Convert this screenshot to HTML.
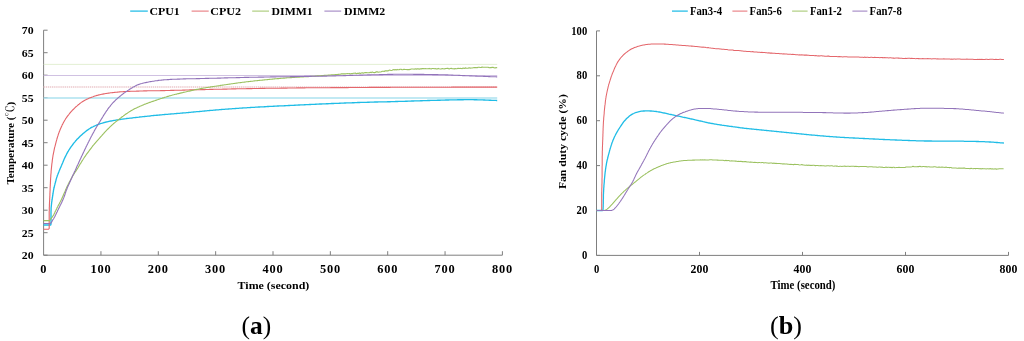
<!DOCTYPE html>
<html lang="en"><head><meta charset="utf-8"><title>Temperature and fan duty cycle</title>
<style>html,body{margin:0;padding:0;background:#fff}svg{display:block}text{font-family:"Liberation Serif","Noto Serif CJK SC",serif;font-weight:bold;fill:#000}.r{font-weight:normal}</style></head><body>
<svg width="1024" height="341" viewBox="0 0 1024 341">
<rect width="1024" height="341" fill="#fff"/>
<g fill="none" stroke="#7f7f7f" stroke-width="1">
<path d="M43.6,30.2 V255.2 H502.4"/>
<path d="M43.6,255.20 h4 M43.6,232.70 h4 M43.6,210.20 h4 M43.6,187.70 h4 M43.6,165.20 h4 M43.6,142.70 h4 M43.6,120.20 h4 M43.6,97.70 h4 M43.6,75.20 h4 M43.6,52.70 h4 M43.6,30.20 h4 M100.95,255.2 v-4 M158.30,255.2 v-4 M215.65,255.2 v-4 M273.00,255.2 v-4 M330.35,255.2 v-4 M387.70,255.2 v-4 M445.05,255.2 v-4 M502.40,255.2 v-4 "/>
</g>
<g fill="none">
<path d="M43.6,64.4 H497.2" stroke="#dcebc8" stroke-width="0.8"/>
<path d="M43.6,75.5 H497.2" stroke="#cbbadf" stroke-width="0.9"/>
<path d="M43.6,86.95 H497.2" stroke="#ecc8cc" stroke-width="1.5" stroke-dasharray="1.4 0.7"/>
<path d="M43.6,98.0 H497.2" stroke="#ade2ef" stroke-width="1.4"/>
</g>
<g fill="none" stroke-linejoin="round" stroke-linecap="butt">
<path d="M43.6,225.0 L45.1,225.0 L46.5,225.0 L47.7,225.0 L48.7,225.0 L49.5,225.0 L50.2,225.0 L50.7,225.0 L51.0,224.1 L51.0,223.1 L51.0,222.2 L51.0,221.2 L51.0,220.2 L51.0,219.1 L51.0,218.1 L51.0,217.1 L51.0,216.1 L51.0,215.1 L51.0,214.1 L51.0,213.1 L51.0,212.1 L51.0,211.1 L51.1,210.1 L51.1,209.1 L51.1,208.1 L51.2,207.1 L51.3,206.1 L51.4,205.1 L51.5,204.1 L51.6,203.1 L51.7,202.1 L51.9,201.1 L52.0,200.2 L52.2,199.2 L52.3,198.2 L52.5,197.2 L52.6,196.2 L52.8,195.2 L52.9,194.2 L53.1,193.2 L53.2,192.2 L53.4,191.3 L53.5,190.3 L53.7,189.3 L53.9,188.3 L54.2,187.3 L54.4,186.4 L54.6,185.4 L54.9,184.4 L55.1,183.4 L55.4,182.5 L55.6,181.5 L55.9,180.5 L56.1,179.6 L56.4,178.6 L56.7,177.6 L57.0,176.7 L57.3,175.7 L57.7,174.8 L58.0,173.9 L58.4,172.9 L58.8,172.0 L59.1,171.1 L59.5,170.2 L59.9,169.2 L60.3,168.3 L60.7,167.4 L61.1,166.5 L61.5,165.6 L61.9,164.6 L62.3,163.7 L62.7,162.8 L63.0,161.9 L63.4,160.9 L63.8,160.0 L64.2,159.1 L64.6,158.2 L65.0,157.3 L65.5,156.4 L65.9,155.5 L66.4,154.6 L66.8,153.7 L67.3,152.8 L67.8,151.9 L68.3,151.1 L68.8,150.2 L69.4,149.4 L69.9,148.5 L70.5,147.7 L71.0,146.9 L71.6,146.1 L72.2,145.3 L72.8,144.5 L73.4,143.7 L74.0,142.9 L74.7,142.1 L75.3,141.3 L76.0,140.6 L76.6,139.8 L77.3,139.1 L78.0,138.4 L78.7,137.7 L79.4,137.0 L80.1,136.3 L80.9,135.6 L81.6,134.9 L82.4,134.2 L83.1,133.6 L83.9,132.9 L84.6,132.3 L85.4,131.7 L86.2,131.0 L87.0,130.4 L87.8,129.9 L88.6,129.3 L89.5,128.7 L90.3,128.2 L91.2,127.7 L92.1,127.2 L93.0,126.8 L93.8,126.3 L94.8,125.9 L95.7,125.5 L96.6,125.1 L97.5,124.7 L98.5,124.4 L99.4,124.0 L100.3,123.7 L101.3,123.4 L102.3,123.1 L103.2,122.8 L104.2,122.5 L105.1,122.3 L106.1,122.0 L107.1,121.8 L108.1,121.6 L109.0,121.4 L110.0,121.2 L111.0,121.0 L112.0,120.8 L113.0,120.6 L114.0,120.4 L114.9,120.3 L115.9,120.1 L116.9,119.9 L117.9,119.8 L118.9,119.6 L119.9,119.5 L120.9,119.3 L121.9,119.2 L122.9,119.1 L123.9,118.9 L124.8,118.8 L125.8,118.7 L126.8,118.5 L127.8,118.4 L128.8,118.3 L129.8,118.2 L130.8,118.1 L131.8,118.0 L132.8,117.8 L133.8,117.7 L134.8,117.6 L135.8,117.5 L136.8,117.4 L137.8,117.3 L138.8,117.2 L139.8,117.0 L140.8,116.9 L141.8,116.8 L142.8,116.7 L143.8,116.6 L144.7,116.5 L145.7,116.4 L146.7,116.3 L147.7,116.2 L148.7,116.1 L149.7,116.0 L150.7,115.8 L151.7,115.7 L152.7,115.6 L153.7,115.5 L154.7,115.4 L155.7,115.3 L156.7,115.2 L157.7,115.2 L158.7,115.1 L159.7,115.0 L160.7,114.9 L161.7,114.8 L162.7,114.7 L163.7,114.6 L164.7,114.5 L165.7,114.4 L166.7,114.4 L167.7,114.3 L168.7,114.2 L169.7,114.1 L170.7,114.0 L171.7,113.9 L172.7,113.9 L173.7,113.8 L174.7,113.7 L175.7,113.6 L176.7,113.5 L177.7,113.4 L178.6,113.4 L179.6,113.3 L180.6,113.2 L181.6,113.1 L182.6,113.0 L183.6,112.9 L184.6,112.8 L185.6,112.8 L186.6,112.7 L187.6,112.6 L188.6,112.5 L189.6,112.4 L190.6,112.3 L191.6,112.2 L192.6,112.1 L193.6,112.0 L194.6,111.9 L195.6,111.8 L196.6,111.7 L197.6,111.6 L198.6,111.6 L199.6,111.5 L200.6,111.4 L201.6,111.3 L202.6,111.2 L203.6,111.1 L204.6,111.0 L205.6,110.9 L206.6,110.8 L207.6,110.7 L208.6,110.6 L209.6,110.5 L210.6,110.4 L211.6,110.3 L212.6,110.3 L213.6,110.2 L214.6,110.1 L215.6,110.0 L216.5,109.9 L217.5,109.8 L218.5,109.8 L219.5,109.7 L220.5,109.6 L221.5,109.5 L222.5,109.4 L223.5,109.4 L224.5,109.3 L225.5,109.2 L226.5,109.1 L227.5,109.1 L228.5,109.0 L229.5,108.9 L230.5,108.8 L231.5,108.8 L232.5,108.7 L233.5,108.6 L234.5,108.6 L235.5,108.5 L236.5,108.4 L237.5,108.3 L238.5,108.3 L239.5,108.2 L240.5,108.1 L241.5,108.1 L242.5,108.0 L243.5,107.9 L244.5,107.9 L245.5,107.8 L246.5,107.8 L247.5,107.7 L248.5,107.6 L249.5,107.6 L250.5,107.5 L251.5,107.4 L252.5,107.4 L253.5,107.3 L254.5,107.3 L255.5,107.2 L256.5,107.1 L257.5,107.1 L258.5,107.0 L259.5,107.0 L260.5,106.9 L261.5,106.9 L262.5,106.8 L263.5,106.8 L264.5,106.7 L265.5,106.7 L266.5,106.6 L267.5,106.5 L268.5,106.5 L269.5,106.4 L270.5,106.4 L271.5,106.3 L272.5,106.3 L273.5,106.2 L274.5,106.2 L275.5,106.1 L276.5,106.1 L277.5,106.0 L278.5,106.0 L279.5,105.9 L280.5,105.9 L281.5,105.8 L282.5,105.8 L283.5,105.8 L284.5,105.7 L285.5,105.7 L286.5,105.6 L287.5,105.6 L288.5,105.5 L289.5,105.5 L290.5,105.4 L291.5,105.4 L292.5,105.3 L293.5,105.3 L294.5,105.2 L295.5,105.2 L296.5,105.1 L297.5,105.1 L298.5,105.0 L299.5,105.0 L300.5,104.9 L301.5,104.9 L302.5,104.8 L303.5,104.8 L304.5,104.7 L305.5,104.7 L306.5,104.6 L307.5,104.6 L308.5,104.6 L309.5,104.5 L310.5,104.5 L311.5,104.4 L312.5,104.4 L313.5,104.3 L314.5,104.3 L315.5,104.2 L316.5,104.2 L317.5,104.1 L318.5,104.1 L319.5,104.0 L320.5,104.0 L321.5,104.0 L322.5,103.9 L323.5,103.9 L324.5,103.8 L325.5,103.8 L326.5,103.7 L327.5,103.7 L328.5,103.7 L329.5,103.6 L330.5,103.6 L331.5,103.5 L332.5,103.5 L333.5,103.5 L334.5,103.4 L335.5,103.4 L336.5,103.3 L337.5,103.3 L338.5,103.3 L339.5,103.2 L340.5,103.2 L341.5,103.1 L342.5,103.1 L343.5,103.1 L344.5,103.0 L345.5,103.0 L346.5,102.9 L347.5,102.9 L348.5,102.9 L349.5,102.8 L350.5,102.8 L351.5,102.8 L352.5,102.7 L353.5,102.7 L354.5,102.7 L355.6,102.6 L356.6,102.6 L357.6,102.5 L358.6,102.5 L359.6,102.5 L360.6,102.4 L361.6,102.4 L362.6,102.4 L363.6,102.4 L364.6,102.3 L365.6,102.3 L366.6,102.3 L367.6,102.2 L368.6,102.2 L369.6,102.2 L370.6,102.1 L371.6,102.1 L372.6,102.1 L373.6,102.1 L374.6,102.0 L375.6,102.0 L376.6,102.0 L377.6,102.0 L378.6,101.9 L379.6,101.9 L380.6,101.9 L381.6,101.9 L382.6,101.8 L383.6,101.8 L384.6,101.8 L385.6,101.8 L386.6,101.8 L387.6,101.7 L388.6,101.7 L389.6,101.7 L390.6,101.7 L391.6,101.6 L392.6,101.6 L393.6,101.6 L394.6,101.6 L395.6,101.5 L396.6,101.5 L397.6,101.5 L398.6,101.4 L399.6,101.4 L400.6,101.4 L401.6,101.4 L402.6,101.3 L403.6,101.3 L404.6,101.3 L405.6,101.2 L406.6,101.2 L407.6,101.2 L408.6,101.1 L409.6,101.1 L410.6,101.1 L411.6,101.0 L412.6,101.0 L413.6,101.0 L414.6,100.9 L415.6,100.9 L416.6,100.9 L417.6,100.8 L418.6,100.8 L419.6,100.8 L420.6,100.7 L421.6,100.7 L422.6,100.7 L423.6,100.6 L424.6,100.6 L425.6,100.6 L426.6,100.6 L427.6,100.5 L428.6,100.5 L429.6,100.5 L430.6,100.4 L431.6,100.4 L432.6,100.4 L433.6,100.4 L434.6,100.3 L435.6,100.3 L436.6,100.3 L437.6,100.2 L438.6,100.2 L439.6,100.2 L440.6,100.2 L441.6,100.1 L442.6,100.1 L443.6,100.1 L444.6,100.1 L445.6,100.0 L446.6,100.0 L447.6,100.0 L448.6,100.0 L449.7,99.9 L450.7,99.9 L451.7,99.9 L452.7,99.9 L453.7,99.8 L454.7,99.8 L455.7,99.8 L456.7,99.8 L457.7,99.7 L458.7,99.7 L459.7,99.7 L460.7,99.7 L461.7,99.7 L462.7,99.7 L463.7,99.7 L464.7,99.6 L465.7,99.6 L466.7,99.6 L467.7,99.6 L468.7,99.6 L469.7,99.6 L470.7,99.6 L471.7,99.6 L472.7,99.6 L473.7,99.7 L474.7,99.7 L475.7,99.7 L476.7,99.7 L477.7,99.8 L478.7,99.8 L479.7,99.8 L480.7,99.9 L481.7,99.9 L482.7,99.9 L483.7,100.0 L484.7,100.0 L485.7,100.1 L486.7,100.1 L487.7,100.1 L488.7,100.2 L489.7,100.2 L490.7,100.2 L491.7,100.3 L492.6,100.3 L493.6,100.3 L494.6,100.4 L495.6,100.4 L496.6,100.5 L497.2,100.5" stroke="#1FBCE6" stroke-width="1.35"/>
<path d="M43.6,229.2 L44.9,229.2 L46.0,229.2 L47.0,229.2 L47.9,229.2 L48.6,229.2 L49.2,228.5 L49.2,227.6 L49.2,226.7 L49.2,225.7 L49.2,224.7 L49.2,223.7 L49.2,222.7 L49.2,221.6 L49.2,220.6 L49.2,219.6 L49.2,218.5 L49.2,217.5 L49.2,216.5 L49.2,215.5 L49.2,214.5 L49.2,213.5 L49.2,212.5 L49.2,211.5 L49.3,210.5 L49.3,209.5 L49.3,208.5 L49.3,207.5 L49.4,206.5 L49.4,205.5 L49.4,204.5 L49.5,203.5 L49.5,202.5 L49.6,201.5 L49.6,200.5 L49.7,199.5 L49.7,198.5 L49.8,197.5 L49.8,196.5 L49.9,195.5 L49.9,194.5 L49.9,193.5 L50.0,192.5 L50.0,191.5 L50.1,190.5 L50.1,189.5 L50.1,188.4 L50.2,187.4 L50.2,186.4 L50.3,185.4 L50.3,184.4 L50.4,183.4 L50.4,182.4 L50.5,181.4 L50.5,180.4 L50.6,179.4 L50.6,178.4 L50.7,177.4 L50.8,176.4 L50.8,175.4 L50.9,174.4 L51.0,173.5 L51.1,172.5 L51.1,171.5 L51.2,170.5 L51.3,169.5 L51.4,168.5 L51.5,167.5 L51.6,166.5 L51.7,165.5 L51.8,164.5 L51.9,163.5 L52.1,162.5 L52.2,161.5 L52.3,160.5 L52.4,159.5 L52.6,158.5 L52.7,157.5 L52.9,156.5 L53.0,155.5 L53.2,154.6 L53.4,153.6 L53.6,152.6 L53.8,151.6 L54.0,150.6 L54.2,149.7 L54.4,148.7 L54.6,147.7 L54.9,146.7 L55.1,145.8 L55.4,144.8 L55.6,143.8 L55.9,142.8 L56.1,141.9 L56.4,140.9 L56.7,139.9 L56.9,139.0 L57.2,138.0 L57.5,137.1 L57.8,136.1 L58.1,135.2 L58.4,134.2 L58.7,133.3 L59.1,132.3 L59.4,131.4 L59.8,130.5 L60.2,129.5 L60.6,128.6 L61.0,127.7 L61.4,126.8 L61.8,125.9 L62.2,124.9 L62.7,124.1 L63.1,123.2 L63.6,122.3 L64.1,121.4 L64.6,120.5 L65.1,119.7 L65.6,118.8 L66.2,118.0 L66.8,117.2 L67.3,116.4 L67.9,115.6 L68.6,114.8 L69.2,114.0 L69.8,113.2 L70.5,112.5 L71.1,111.7 L71.8,111.0 L72.5,110.2 L73.2,109.5 L73.9,108.8 L74.6,108.1 L75.3,107.4 L76.0,106.7 L76.8,106.1 L77.6,105.4 L78.3,104.8 L79.1,104.2 L79.9,103.5 L80.7,102.9 L81.5,102.4 L82.3,101.8 L83.2,101.2 L84.0,100.7 L84.9,100.2 L85.8,99.8 L86.7,99.3 L87.6,98.9 L88.5,98.5 L89.4,98.1 L90.3,97.7 L91.3,97.4 L92.2,97.0 L93.1,96.7 L94.1,96.3 L95.0,96.0 L96.0,95.7 L97.0,95.4 L97.9,95.2 L98.9,94.9 L99.9,94.7 L100.8,94.5 L101.8,94.3 L102.8,94.1 L103.8,93.9 L104.8,93.7 L105.8,93.5 L106.7,93.4 L107.7,93.2 L108.7,93.1 L109.7,93.0 L110.7,92.8 L111.7,92.7 L112.7,92.6 L113.7,92.5 L114.7,92.4 L115.7,92.3 L116.7,92.2 L117.7,92.1 L118.7,92.0 L119.7,91.9 L120.7,91.8 L121.7,91.8 L122.7,91.7 L123.7,91.6 L124.7,91.6 L125.7,91.5 L126.7,91.5 L127.7,91.4 L128.7,91.4 L129.7,91.4 L130.7,91.3 L131.7,91.3 L132.7,91.2 L133.7,91.2 L134.7,91.2 L135.7,91.2 L136.7,91.1 L137.7,91.1 L138.7,91.1 L139.7,91.0 L140.7,91.0 L141.7,91.0 L142.7,91.0 L143.7,90.9 L144.7,90.9 L145.7,90.9 L146.7,90.9 L147.7,90.8 L148.7,90.8 L149.7,90.8 L150.7,90.8 L151.7,90.8 L152.7,90.8 L153.7,90.7 L154.7,90.7 L155.7,90.7 L156.7,90.7 L157.7,90.7 L158.7,90.7 L159.7,90.7 L160.7,90.6 L161.7,90.6 L162.7,90.6 L163.7,90.6 L164.7,90.6 L165.7,90.5 L166.7,90.5 L167.7,90.5 L168.7,90.5 L169.7,90.5 L170.7,90.4 L171.7,90.4 L172.7,90.4 L173.7,90.4 L174.7,90.3 L175.7,90.3 L176.7,90.3 L177.7,90.3 L178.7,90.2 L179.7,90.2 L180.7,90.2 L181.7,90.2 L182.7,90.1 L183.7,90.1 L184.7,90.1 L185.7,90.0 L186.7,90.0 L187.7,90.0 L188.8,90.0 L189.8,89.9 L190.8,89.9 L191.8,89.9 L192.8,89.9 L193.8,89.8 L194.8,89.8 L195.8,89.8 L196.8,89.7 L197.8,89.7 L198.8,89.7 L199.8,89.7 L200.8,89.6 L201.8,89.6 L202.8,89.6 L203.8,89.6 L204.8,89.6 L205.8,89.5 L206.8,89.5 L207.8,89.5 L208.8,89.5 L209.8,89.4 L210.8,89.4 L211.8,89.4 L212.8,89.4 L213.8,89.3 L214.8,89.3 L215.8,89.3 L216.8,89.3 L217.8,89.3 L218.8,89.2 L219.8,89.2 L220.8,89.2 L221.8,89.2 L222.8,89.1 L223.8,89.1 L224.8,89.1 L225.8,89.1 L226.8,89.1 L227.8,89.0 L228.8,89.0 L229.8,89.0 L230.8,89.0 L231.8,88.9 L232.8,88.9 L233.8,88.9 L234.8,88.9 L235.8,88.9 L236.8,88.8 L237.8,88.8 L238.8,88.8 L239.8,88.8 L240.8,88.8 L241.8,88.7 L242.8,88.7 L243.8,88.7 L244.8,88.7 L245.8,88.7 L246.8,88.6 L247.8,88.6 L248.8,88.6 L249.8,88.6 L250.8,88.6 L251.8,88.6 L252.8,88.5 L253.8,88.5 L254.8,88.5 L255.8,88.5 L256.8,88.5 L257.8,88.5 L258.8,88.5 L259.8,88.4 L260.8,88.4 L261.8,88.4 L262.8,88.4 L263.8,88.4 L264.8,88.4 L265.9,88.3 L266.9,88.3 L267.9,88.3 L268.9,88.3 L269.9,88.3 L270.9,88.3 L271.9,88.3 L272.9,88.2 L273.9,88.2 L274.9,88.2 L275.9,88.2 L276.9,88.2 L277.9,88.2 L278.9,88.2 L279.9,88.2 L280.9,88.1 L281.9,88.1 L282.9,88.1 L283.9,88.1 L284.9,88.1 L285.9,88.1 L286.9,88.1 L287.9,88.0 L288.9,88.0 L289.9,88.0 L290.9,88.0 L291.9,88.0 L292.9,88.0 L293.9,88.0 L294.9,88.0 L295.9,88.0 L296.9,87.9 L297.9,87.9 L298.9,87.9 L299.9,87.9 L300.9,87.9 L301.9,87.9 L302.9,87.9 L303.9,87.9 L304.9,87.9 L305.9,87.8 L306.9,87.8 L307.9,87.8 L308.9,87.8 L309.9,87.8 L310.9,87.8 L311.9,87.8 L312.9,87.8 L313.9,87.8 L314.9,87.8 L315.9,87.7 L316.9,87.7 L317.9,87.7 L318.9,87.7 L319.9,87.7 L320.9,87.7 L321.9,87.7 L322.9,87.7 L323.9,87.7 L324.9,87.7 L325.9,87.7 L326.9,87.7 L327.9,87.7 L328.9,87.7 L329.9,87.7 L330.9,87.6 L331.9,87.6 L332.9,87.6 L334.0,87.6 L335.0,87.6 L336.0,87.6 L337.0,87.6 L338.0,87.6 L339.0,87.6 L340.0,87.6 L341.0,87.6 L342.0,87.6 L343.0,87.6 L344.0,87.6 L345.0,87.6 L346.0,87.6 L347.0,87.6 L348.0,87.6 L349.0,87.5 L350.0,87.5 L351.0,87.5 L352.0,87.5 L353.0,87.5 L354.0,87.5 L355.0,87.5 L356.0,87.5 L357.0,87.5 L358.0,87.5 L359.0,87.5 L360.0,87.5 L361.0,87.5 L362.0,87.5 L363.0,87.5 L364.0,87.5 L365.0,87.5 L366.0,87.5 L367.0,87.5 L368.0,87.5 L369.0,87.4 L370.0,87.4 L371.0,87.4 L372.0,87.4 L373.0,87.4 L374.0,87.4 L375.0,87.4 L376.0,87.4 L377.0,87.4 L378.0,87.4 L379.0,87.4 L380.0,87.4 L381.0,87.4 L382.0,87.4 L383.0,87.4 L384.0,87.4 L385.0,87.4 L386.0,87.4 L387.0,87.4 L388.0,87.4 L389.0,87.4 L390.0,87.4 L391.0,87.3 L392.0,87.3 L393.0,87.3 L394.0,87.3 L395.0,87.3 L396.0,87.3 L397.0,87.3 L398.0,87.3 L399.0,87.3 L400.1,87.3 L401.1,87.3 L402.1,87.3 L403.1,87.3 L404.1,87.3 L405.1,87.3 L406.1,87.3 L407.1,87.3 L408.1,87.3 L409.1,87.3 L410.1,87.3 L411.1,87.3 L412.1,87.3 L413.1,87.3 L414.1,87.3 L415.1,87.3 L416.1,87.3 L417.1,87.2 L418.1,87.2 L419.1,87.2 L420.1,87.2 L421.1,87.2 L422.1,87.2 L423.1,87.2 L424.1,87.2 L425.1,87.2 L426.1,87.2 L427.1,87.2 L428.1,87.2 L429.1,87.2 L430.1,87.2 L431.1,87.2 L432.1,87.2 L433.1,87.2 L434.1,87.2 L435.1,87.2 L436.1,87.2 L437.1,87.2 L438.1,87.2 L439.1,87.2 L440.1,87.2 L441.1,87.2 L442.1,87.2 L443.1,87.2 L444.1,87.2 L445.1,87.2 L446.1,87.2 L447.1,87.2 L448.1,87.2 L449.1,87.2 L450.1,87.2 L451.1,87.2 L452.1,87.1 L453.1,87.1 L454.1,87.1 L455.1,87.1 L456.1,87.1 L457.1,87.1 L458.1,87.1 L459.1,87.1 L460.1,87.1 L461.1,87.1 L462.1,87.1 L463.1,87.1 L464.1,87.1 L465.2,87.1 L466.2,87.1 L467.2,87.1 L468.2,87.1 L469.2,87.1 L470.2,87.1 L471.2,87.1 L472.2,87.1 L473.2,87.1 L474.2,87.1 L475.2,87.1 L476.2,87.1 L477.2,87.1 L478.2,87.1 L479.2,87.1 L480.2,87.1 L481.2,87.1 L482.2,87.1 L483.2,87.1 L484.2,87.1 L485.2,87.1 L486.2,87.1 L487.2,87.1 L488.2,87.1 L489.2,87.1 L490.2,87.1 L491.2,87.1 L492.1,87.1 L493.1,87.1 L494.1,87.1 L495.0,87.1 L496.1,87.1 L497.2,87.1 L497.2,87.1" stroke="#E4666B" stroke-width="1.12"/>
<path d="M43.6,220.6 L44.8,220.6 L46.0,220.6 L47.0,220.6 L47.9,220.6 L48.8,220.6 L49.5,220.6 L50.2,219.8 L50.8,218.9 L51.4,218.1 L52.0,217.3 L52.6,216.5 L53.2,215.7 L53.7,214.8 L54.1,213.9 L54.6,213.0 L55.0,212.1 L55.4,211.2 L55.9,210.3 L56.3,209.4 L56.8,208.5 L57.2,207.6 L57.7,206.7 L58.1,205.8 L58.6,204.9 L59.1,204.1 L59.5,203.2 L60.0,202.3 L60.5,201.4 L60.9,200.5 L61.4,199.6 L61.8,198.7 L62.2,197.8 L62.6,196.9 L63.0,196.0 L63.4,195.1 L63.8,194.1 L64.2,193.2 L64.6,192.3 L65.0,191.4 L65.4,190.4 L65.7,189.5 L66.2,188.6 L66.6,187.7 L67.0,186.8 L67.4,185.9 L67.9,185.0 L68.3,184.1 L68.8,183.2 L69.2,182.3 L69.7,181.4 L70.2,180.5 L70.6,179.7 L71.1,178.8 L71.6,177.9 L72.1,177.0 L72.6,176.2 L73.2,175.3 L73.7,174.5 L74.2,173.6 L74.7,172.8 L75.3,171.9 L75.8,171.1 L76.4,170.3 L76.9,169.4 L77.4,168.6 L78.0,167.7 L78.5,166.9 L79.0,166.0 L79.5,165.1 L80.0,164.3 L80.6,163.4 L81.1,162.6 L81.6,161.7 L82.1,160.9 L82.7,160.0 L83.2,159.2 L83.8,158.3 L84.3,157.5 L84.9,156.7 L85.5,155.9 L86.0,155.0 L86.6,154.2 L87.2,153.4 L87.8,152.6 L88.4,151.8 L89.0,151.0 L89.6,150.2 L90.2,149.4 L90.8,148.6 L91.4,147.8 L92.0,147.0 L92.6,146.2 L93.2,145.4 L93.9,144.7 L94.5,143.9 L95.2,143.1 L95.8,142.4 L96.5,141.6 L97.1,140.9 L97.8,140.1 L98.4,139.3 L99.1,138.6 L99.8,137.8 L100.4,137.1 L101.1,136.3 L101.8,135.6 L102.4,134.9 L103.1,134.1 L103.8,133.4 L104.4,132.6 L105.1,131.9 L105.8,131.2 L106.5,130.4 L107.2,129.7 L107.9,129.0 L108.6,128.3 L109.3,127.6 L110.0,126.9 L110.8,126.2 L111.5,125.5 L112.2,124.9 L113.0,124.2 L113.7,123.5 L114.5,122.9 L115.3,122.2 L116.0,121.6 L116.8,121.0 L117.6,120.3 L118.4,119.7 L119.2,119.1 L120.0,118.5 L120.8,117.9 L121.5,117.3 L122.3,116.7 L123.2,116.1 L124.0,115.5 L124.8,114.9 L125.6,114.3 L126.4,113.7 L127.2,113.2 L128.1,112.6 L128.9,112.1 L129.8,111.6 L130.6,111.0 L131.5,110.5 L132.4,110.0 L133.2,109.6 L134.1,109.1 L135.0,108.6 L135.9,108.2 L136.8,107.8 L137.7,107.3 L138.6,106.9 L139.5,106.5 L140.4,106.1 L141.4,105.7 L142.3,105.3 L143.2,104.9 L144.1,104.5 L145.1,104.1 L146.0,103.8 L146.9,103.4 L147.9,103.1 L148.8,102.7 L149.7,102.4 L150.7,102.1 L151.6,101.7 L152.6,101.4 L153.5,101.1 L154.5,100.8 L155.4,100.4 L156.4,100.1 L157.3,99.8 L158.3,99.5 L159.2,99.1 L160.2,98.8 L161.1,98.5 L162.1,98.2 L163.0,97.9 L164.0,97.6 L164.9,97.3 L165.9,97.0 L166.8,96.7 L167.8,96.4 L168.8,96.1 L169.7,95.8 L170.7,95.6 L171.7,95.3 L172.6,95.0 L173.6,94.8 L174.6,94.5 L175.5,94.3 L176.5,94.1 L177.5,93.8 L178.5,93.6 L179.4,93.4 L180.4,93.1 L181.4,92.9 L182.4,92.7 L183.3,92.4 L184.3,92.2 L185.3,92.0 L186.3,91.8 L187.2,91.5 L188.2,91.3 L189.2,91.1 L190.2,90.9 L191.1,90.6 L192.1,90.4 L193.1,90.2 L194.1,90.0 L195.0,89.8 L196.0,89.6 L197.0,89.4 L198.0,89.2 L199.0,89.0 L199.9,88.8 L200.9,88.6 L201.9,88.4 L202.9,88.2 L203.9,88.0 L204.9,87.9 L205.9,87.7 L206.8,87.5 L207.8,87.4 L208.8,87.2 L209.8,87.1 L210.8,86.9 L211.8,86.8 L212.8,86.6 L213.8,86.5 L214.8,86.3 L215.8,86.2 L216.7,86.0 L217.7,85.9 L218.7,85.7 L219.7,85.6 L220.7,85.4 L221.7,85.3 L222.7,85.1 L223.7,85.0 L224.7,84.8 L225.7,84.7 L226.7,84.5 L227.6,84.4 L228.6,84.2 L229.6,84.1 L230.6,84.0 L231.6,83.8 L232.6,83.7 L233.6,83.5 L234.6,83.4 L235.6,83.2 L236.6,83.1 L237.6,83.0 L238.5,82.8 L239.5,82.7 L240.5,82.6 L241.5,82.5 L242.5,82.3 L243.5,82.2 L244.5,82.1 L245.5,82.0 L246.5,81.8 L247.5,81.7 L248.5,81.6 L249.5,81.5 L250.5,81.4 L251.5,81.3 L252.5,81.2 L253.5,81.0 L254.5,80.9 L255.4,80.8 L256.4,80.7 L257.4,80.6 L258.4,80.5 L259.4,80.4 L260.4,80.3 L261.4,80.2 L262.4,80.1 L263.4,80.0 L264.4,79.9 L265.4,79.8 L266.4,79.7 L267.4,79.6 L268.4,79.5 L269.4,79.4 L270.4,79.3 L271.4,79.2 L272.4,79.1 L273.4,79.0 L274.4,78.9 L275.4,78.8 L276.4,78.7 L277.4,78.6 L278.4,78.6 L279.4,78.5 L280.4,78.4 L281.4,78.3 L282.4,78.2 L283.4,78.1 L284.4,78.1 L285.4,78.0 L286.3,77.9 L287.3,77.8 L288.3,77.8 L289.3,77.7 L290.3,77.6 L291.3,77.6 L292.3,77.5 L293.3,77.4 L294.3,77.4 L295.3,77.3 L296.3,77.3 L297.3,77.2 L298.3,77.2 L299.3,77.1 L300.3,77.0 L301.3,77.0 L302.3,76.9 L303.3,76.9 L304.3,76.8 L305.3,76.8 L306.3,76.7 L307.3,76.6 L308.3,76.6 L309.3,76.5 L310.3,76.4 L311.3,76.4 L312.3,76.3 L313.3,76.2 L314.3,76.2 L315.3,76.1 L316.3,76.0 L317.3,75.9 L318.3,75.9 L319.3,75.8 L320.3,75.7 L321.3,75.6 L322.3,75.6 L323.3,75.5 L324.3,75.4 L325.3,75.3 L326.3,75.3 L327.3,75.2 L328.3,75.1 L329.3,75.1 L330.3,75.0 L331.3,74.9 L332.3,74.8 L333.3,74.8 L334.3,74.7 L335.3,74.6 L336.3,74.6 L337.3,74.5 L338.3,74.4 L339.3,74.3 L340.3,74.2 L341.3,73.9 L342.3,73.9 L343.3,73.9 L344.3,73.9 L345.3,73.9 L346.3,73.7 L347.3,73.5 L348.3,73.7 L349.3,73.5 L350.3,73.9 L351.3,73.5 L352.3,73.8 L353.3,73.2 L354.3,73.2 L355.3,73.1 L356.3,73.7 L357.3,73.4 L358.3,73.4 L359.3,72.9 L360.3,73.5 L361.3,73.0 L362.3,72.8 L363.3,73.3 L364.3,72.8 L365.3,72.5 L366.3,72.6 L367.3,72.8 L368.3,72.7 L369.3,72.7 L370.3,72.3 L371.3,72.6 L372.3,72.1 L373.3,72.5 L374.3,72.6 L375.3,72.5 L376.3,71.8 L377.3,71.9 L378.3,72.2 L379.3,72.0 L380.3,72.0 L381.3,71.8 L382.3,71.3 L383.2,71.3 L384.2,71.4 L385.2,70.8 L386.2,70.9 L387.2,70.7 L388.2,70.9 L389.2,70.1 L390.2,70.2 L391.2,70.5 L392.2,70.3 L393.2,69.6 L394.2,70.0 L395.1,69.5 L396.1,70.0 L397.1,69.4 L398.1,69.8 L399.1,69.8 L400.1,69.2 L401.1,69.2 L402.1,69.8 L403.1,69.6 L404.1,69.2 L405.1,69.5 L406.1,69.5 L407.2,69.6 L408.2,69.6 L409.2,69.6 L410.2,69.4 L411.2,69.0 L412.2,69.0 L413.2,69.0 L414.2,69.2 L415.2,68.8 L416.2,69.1 L417.2,68.9 L418.2,68.8 L419.2,69.3 L420.2,68.7 L421.2,68.9 L422.2,68.6 L423.2,68.5 L424.2,68.8 L425.2,68.6 L426.2,68.8 L427.2,68.8 L428.2,68.8 L429.2,68.4 L430.2,68.8 L431.2,68.9 L432.2,68.5 L433.2,68.5 L434.2,68.7 L435.2,68.5 L436.2,68.9 L437.2,69.0 L438.2,68.4 L439.2,68.8 L440.2,69.0 L441.2,69.0 L442.2,68.6 L443.2,68.8 L444.2,69.0 L445.2,68.6 L446.2,68.5 L447.2,68.4 L448.2,68.4 L449.2,68.9 L450.2,68.5 L451.2,68.4 L452.2,68.6 L453.2,68.7 L454.2,68.9 L455.2,68.6 L456.2,68.8 L457.2,68.6 L458.2,68.2 L459.2,68.5 L460.2,68.4 L461.2,68.5 L462.2,68.6 L463.2,68.0 L464.2,68.4 L465.2,67.9 L466.2,68.1 L467.2,68.2 L468.2,68.1 L469.2,67.8 L470.2,68.1 L471.2,68.0 L472.2,68.0 L473.2,67.8 L474.2,67.6 L475.2,67.5 L476.2,67.6 L477.2,67.8 L478.2,67.2 L479.2,67.2 L480.2,67.5 L481.2,67.4 L482.2,67.1 L483.2,67.3 L484.2,67.3 L485.2,67.3 L486.2,67.3 L487.2,67.2 L488.2,67.2 L489.2,67.7 L490.2,67.6 L491.2,67.6 L492.1,67.3 L493.1,67.4 L494.1,67.7 L495.0,68.0 L496.1,67.6 L497.2,67.7 L497.2,67.7" stroke="#9BC160" stroke-width="1.12"/>
<path d="M43.6,223.5 L44.8,223.5 L45.9,223.5 L47.0,223.5 L48.0,223.5 L48.9,223.5 L49.7,223.5 L50.4,223.4 L51.1,222.8 L51.7,221.9 L52.3,220.8 L52.8,219.8 L53.4,219.0 L53.9,218.2 L54.4,217.3 L54.9,216.4 L55.3,215.5 L55.8,214.6 L56.2,213.7 L56.6,212.8 L57.1,211.9 L57.5,211.0 L57.9,210.1 L58.4,209.2 L58.8,208.3 L59.2,207.4 L59.7,206.5 L60.1,205.6 L60.6,204.7 L61.0,203.8 L61.5,202.9 L61.9,202.0 L62.3,201.1 L62.7,200.2 L63.1,199.3 L63.5,198.4 L63.9,197.4 L64.2,196.5 L64.6,195.6 L64.9,194.6 L65.2,193.7 L65.5,192.7 L65.8,191.8 L66.1,190.8 L66.5,189.9 L66.9,189.0 L67.2,188.0 L67.6,187.1 L68.0,186.2 L68.4,185.3 L68.8,184.4 L69.3,183.4 L69.7,182.5 L70.1,181.6 L70.5,180.7 L70.9,179.8 L71.3,178.9 L71.7,178.0 L72.1,177.0 L72.5,176.1 L72.9,175.2 L73.3,174.3 L73.8,173.4 L74.2,172.5 L74.6,171.6 L75.1,170.7 L75.5,169.8 L75.9,168.9 L76.3,168.0 L76.7,167.1 L77.1,166.1 L77.5,165.2 L78.0,164.3 L78.4,163.4 L78.8,162.5 L79.2,161.6 L79.6,160.7 L80.0,159.8 L80.5,158.8 L80.9,157.9 L81.3,157.0 L81.7,156.1 L82.2,155.2 L82.6,154.3 L83.0,153.4 L83.4,152.5 L83.9,151.6 L84.3,150.7 L84.7,149.8 L85.1,148.9 L85.6,148.0 L86.0,147.1 L86.4,146.2 L86.9,145.3 L87.3,144.4 L87.8,143.5 L88.2,142.6 L88.7,141.7 L89.1,140.8 L89.6,139.9 L90.0,139.0 L90.5,138.1 L90.9,137.2 L91.4,136.3 L91.9,135.5 L92.3,134.6 L92.8,133.7 L93.3,132.8 L93.8,131.9 L94.2,131.1 L94.7,130.2 L95.2,129.3 L95.7,128.4 L96.2,127.6 L96.7,126.7 L97.2,125.9 L97.8,125.0 L98.3,124.1 L98.8,123.3 L99.3,122.4 L99.9,121.6 L100.4,120.7 L100.9,119.9 L101.4,119.0 L102.0,118.2 L102.5,117.3 L103.0,116.5 L103.5,115.6 L104.0,114.8 L104.6,113.9 L105.1,113.1 L105.7,112.2 L106.2,111.4 L106.8,110.6 L107.4,109.8 L107.9,108.9 L108.5,108.1 L109.1,107.3 L109.8,106.6 L110.4,105.8 L111.0,105.0 L111.7,104.2 L112.3,103.5 L113.0,102.7 L113.7,102.0 L114.4,101.3 L115.1,100.6 L115.8,99.9 L116.5,99.2 L117.3,98.6 L118.0,97.9 L118.8,97.3 L119.6,96.6 L120.3,96.0 L121.1,95.4 L121.9,94.7 L122.7,94.1 L123.5,93.5 L124.3,92.9 L125.1,92.4 L125.9,91.8 L126.8,91.2 L127.6,90.6 L128.4,90.1 L129.3,89.5 L130.1,89.0 L131.0,88.5 L131.8,87.9 L132.7,87.4 L133.5,86.9 L134.4,86.4 L135.3,86.0 L136.2,85.5 L137.1,85.1 L138.0,84.7 L138.9,84.4 L139.9,84.0 L140.8,83.7 L141.8,83.5 L142.7,83.2 L143.7,83.0 L144.7,82.8 L145.7,82.6 L146.7,82.4 L147.6,82.2 L148.6,82.0 L149.6,81.8 L150.6,81.6 L151.6,81.5 L152.6,81.3 L153.6,81.2 L154.6,81.0 L155.6,80.8 L156.5,80.7 L157.5,80.6 L158.5,80.4 L159.5,80.3 L160.5,80.2 L161.5,80.1 L162.5,80.0 L163.5,79.9 L164.5,79.8 L165.5,79.8 L166.5,79.7 L167.5,79.6 L168.5,79.6 L169.5,79.5 L170.5,79.4 L171.5,79.4 L172.5,79.3 L173.5,79.3 L174.5,79.2 L175.5,79.2 L176.5,79.2 L177.5,79.1 L178.5,79.1 L179.5,79.1 L180.5,79.0 L181.5,79.0 L182.5,79.0 L183.5,78.9 L184.5,78.9 L185.5,78.9 L186.5,78.8 L187.5,78.8 L188.5,78.8 L189.5,78.8 L190.5,78.8 L191.5,78.7 L192.5,78.7 L193.5,78.7 L194.5,78.7 L195.5,78.7 L196.5,78.6 L197.5,78.6 L198.5,78.6 L199.5,78.6 L200.5,78.5 L201.5,78.5 L202.5,78.5 L203.5,78.5 L204.5,78.5 L205.5,78.4 L206.5,78.4 L207.5,78.4 L208.5,78.4 L209.5,78.3 L210.5,78.3 L211.5,78.3 L212.5,78.3 L213.5,78.2 L214.5,78.2 L215.5,78.2 L216.5,78.2 L217.5,78.1 L218.5,78.1 L219.5,78.1 L220.5,78.1 L221.5,78.0 L222.5,78.0 L223.5,78.0 L224.5,77.9 L225.5,77.9 L226.5,77.9 L227.5,77.9 L228.5,77.8 L229.5,77.8 L230.5,77.8 L231.5,77.8 L232.5,77.7 L233.5,77.7 L234.5,77.7 L235.5,77.7 L236.5,77.6 L237.5,77.6 L238.5,77.6 L239.5,77.6 L240.5,77.5 L241.5,77.5 L242.5,77.5 L243.5,77.5 L244.5,77.4 L245.5,77.4 L246.5,77.4 L247.5,77.4 L248.5,77.4 L249.5,77.3 L250.5,77.3 L251.5,77.3 L252.5,77.3 L253.5,77.2 L254.5,77.2 L255.5,77.2 L256.5,77.2 L257.5,77.2 L258.5,77.1 L259.5,77.1 L260.5,77.1 L261.5,77.1 L262.5,77.1 L263.5,77.1 L264.6,77.0 L265.6,77.0 L266.6,77.0 L267.6,77.0 L268.6,77.0 L269.6,77.0 L270.6,76.9 L271.6,76.9 L272.6,76.9 L273.6,76.9 L274.6,76.9 L275.6,76.9 L276.6,76.8 L277.6,76.8 L278.6,76.8 L279.6,76.8 L280.6,76.8 L281.6,76.8 L282.6,76.8 L283.6,76.7 L284.6,76.7 L285.6,76.7 L286.6,76.7 L287.6,76.7 L288.6,76.7 L289.6,76.7 L290.6,76.6 L291.6,76.6 L292.6,76.6 L293.6,76.6 L294.6,76.6 L295.6,76.6 L296.6,76.6 L297.6,76.5 L298.6,76.5 L299.6,76.5 L300.6,76.5 L301.6,76.5 L302.6,76.5 L303.6,76.5 L304.6,76.4 L305.6,76.4 L306.6,76.4 L307.6,76.4 L308.6,76.4 L309.6,76.4 L310.6,76.4 L311.6,76.3 L312.6,76.3 L313.6,76.3 L314.6,76.3 L315.6,76.3 L316.6,76.3 L317.6,76.2 L318.6,76.2 L319.6,76.2 L320.6,76.2 L321.6,76.2 L322.6,76.1 L323.6,76.1 L324.6,76.1 L325.6,76.1 L326.6,76.1 L327.6,76.0 L328.6,76.0 L329.6,76.0 L330.6,76.0 L331.6,76.0 L332.6,75.9 L333.6,75.9 L334.6,75.9 L335.6,75.9 L336.6,75.8 L337.6,75.8 L338.6,75.8 L339.6,75.8 L340.6,75.7 L341.6,75.7 L342.6,75.7 L343.6,75.6 L344.6,75.6 L345.6,75.6 L346.6,75.5 L347.6,75.5 L348.6,75.5 L349.6,75.4 L350.6,75.4 L351.6,75.4 L352.6,75.4 L353.6,75.3 L354.6,75.3 L355.6,75.3 L356.6,75.2 L357.6,75.2 L358.6,75.2 L359.6,75.1 L360.6,75.1 L361.6,75.1 L362.6,75.1 L363.6,75.0 L364.6,75.0 L365.6,75.0 L366.6,75.0 L367.6,74.9 L368.6,74.9 L369.6,74.9 L370.6,74.9 L371.6,74.8 L372.6,74.8 L373.6,74.8 L374.6,74.8 L375.6,74.7 L376.6,74.7 L377.6,74.7 L378.6,74.7 L379.6,74.6 L380.6,74.6 L381.6,74.6 L382.6,74.6 L383.6,74.5 L384.6,74.5 L385.6,74.5 L386.6,74.5 L387.6,74.4 L388.6,74.4 L389.6,74.4 L390.6,74.4 L391.6,74.4 L392.6,74.4 L393.6,74.3 L394.6,74.3 L395.6,74.3 L396.6,74.3 L397.6,74.3 L398.7,74.3 L399.7,74.3 L400.7,74.3 L401.7,74.3 L402.7,74.3 L403.7,74.3 L404.7,74.3 L405.7,74.3 L406.7,74.3 L407.7,74.3 L408.7,74.3 L409.7,74.3 L410.7,74.3 L411.7,74.3 L412.7,74.3 L413.7,74.4 L414.7,74.4 L415.7,74.4 L416.7,74.4 L417.7,74.4 L418.7,74.4 L419.7,74.4 L420.7,74.4 L421.7,74.4 L422.7,74.4 L423.7,74.4 L424.7,74.5 L425.7,74.5 L426.7,74.5 L427.7,74.5 L428.7,74.5 L429.7,74.5 L430.7,74.5 L431.7,74.5 L432.7,74.6 L433.7,74.6 L434.7,74.6 L435.7,74.6 L436.7,74.6 L437.7,74.6 L438.7,74.7 L439.7,74.7 L440.7,74.7 L441.7,74.7 L442.7,74.8 L443.7,74.8 L444.7,74.8 L445.7,74.9 L446.7,74.9 L447.7,74.9 L448.7,75.0 L449.7,75.0 L450.7,75.0 L451.7,75.1 L452.7,75.1 L453.7,75.2 L454.7,75.2 L455.7,75.3 L456.7,75.3 L457.7,75.3 L458.7,75.4 L459.7,75.4 L460.7,75.5 L461.7,75.5 L462.7,75.6 L463.7,75.6 L464.7,75.6 L465.7,75.7 L466.7,75.7 L467.7,75.8 L468.7,75.8 L469.7,75.9 L470.7,75.9 L471.7,75.9 L472.7,76.0 L473.7,76.0 L474.7,76.0 L475.7,76.1 L476.7,76.1 L477.7,76.2 L478.7,76.2 L479.7,76.2 L480.7,76.3 L481.7,76.3 L482.7,76.3 L483.7,76.4 L484.7,76.4 L485.7,76.5 L486.7,76.5 L487.7,76.5 L488.7,76.6 L489.7,76.6 L490.7,76.7 L491.7,76.7 L492.6,76.7 L493.6,76.8 L494.6,76.8 L495.6,76.8 L496.6,76.9 L497.2,76.9" stroke="#9274BA" stroke-width="1.12"/>
</g>
<g fill="none">
<path d="M130.2,11.1 H147.8" stroke="#1FBCE6" stroke-width="1.25"/>
<path d="M191.6,11.1 H208.7" stroke="#E4666B" stroke-width="0.95"/>
<path d="M252.2,11.1 H269" stroke="#9BC160" stroke-width="0.95"/>
<path d="M324.4,11.1 H341.2" stroke="#9274BA" stroke-width="0.95"/>
</g>
<text transform="translate(149.4,15) scale(1,0.94)" font-size="12" text-anchor="start" textLength="30.3" lengthAdjust="spacingAndGlyphs">CPU1</text>
<text transform="translate(210.3,15) scale(1,0.94)" font-size="12" text-anchor="start" textLength="30.7" lengthAdjust="spacingAndGlyphs">CPU2</text>
<text transform="translate(271.6,15) scale(1,0.94)" font-size="12" text-anchor="start" textLength="41.1" lengthAdjust="spacingAndGlyphs">DIMM1</text>
<text transform="translate(343.9,15) scale(1,0.94)" font-size="12" text-anchor="start" textLength="41.4" lengthAdjust="spacingAndGlyphs">DIMM2</text>
<text transform="translate(33.6,259.3) scale(1,0.94)" font-size="12" text-anchor="end" textLength="11.8" lengthAdjust="spacingAndGlyphs">20</text>
<text transform="translate(33.6,236.8) scale(1,0.94)" font-size="12" text-anchor="end" textLength="11.8" lengthAdjust="spacingAndGlyphs">25</text>
<text transform="translate(33.6,214.3) scale(1,0.94)" font-size="12" text-anchor="end" textLength="11.8" lengthAdjust="spacingAndGlyphs">30</text>
<text transform="translate(33.6,191.8) scale(1,0.94)" font-size="12" text-anchor="end" textLength="11.8" lengthAdjust="spacingAndGlyphs">35</text>
<text transform="translate(33.6,169.3) scale(1,0.94)" font-size="12" text-anchor="end" textLength="11.8" lengthAdjust="spacingAndGlyphs">40</text>
<text transform="translate(33.6,146.8) scale(1,0.94)" font-size="12" text-anchor="end" textLength="11.8" lengthAdjust="spacingAndGlyphs">45</text>
<text transform="translate(33.6,124.3) scale(1,0.94)" font-size="12" text-anchor="end" textLength="11.8" lengthAdjust="spacingAndGlyphs">50</text>
<text transform="translate(33.6,101.8) scale(1,0.94)" font-size="12" text-anchor="end" textLength="11.8" lengthAdjust="spacingAndGlyphs">55</text>
<text transform="translate(33.6,79.3) scale(1,0.94)" font-size="12" text-anchor="end" textLength="11.8" lengthAdjust="spacingAndGlyphs">60</text>
<text transform="translate(33.6,56.8) scale(1,0.94)" font-size="12" text-anchor="end" textLength="11.8" lengthAdjust="spacingAndGlyphs">65</text>
<text transform="translate(33.6,34.3) scale(1,0.94)" font-size="12" text-anchor="end" textLength="11.8" lengthAdjust="spacingAndGlyphs">70</text>
<text transform="translate(40.2,273.1) scale(1,0.93)" font-size="12.4">0</text>
<text transform="translate(90.4,273.1) scale(1,0.93)" font-size="12.4" textLength="20.2" lengthAdjust="spacing">100</text>
<text transform="translate(147.8,273.1) scale(1,0.93)" font-size="12.4" textLength="20.2" lengthAdjust="spacing">200</text>
<text transform="translate(205.1,273.1) scale(1,0.93)" font-size="12.4" textLength="20.2" lengthAdjust="spacing">300</text>
<text transform="translate(262.5,273.1) scale(1,0.93)" font-size="12.4" textLength="20.2" lengthAdjust="spacing">400</text>
<text transform="translate(319.9,273.1) scale(1,0.93)" font-size="12.4" textLength="20.2" lengthAdjust="spacing">500</text>
<text transform="translate(377.2,273.1) scale(1,0.93)" font-size="12.4" textLength="20.2" lengthAdjust="spacing">600</text>
<text transform="translate(434.5,273.1) scale(1,0.93)" font-size="12.4" textLength="20.2" lengthAdjust="spacing">700</text>
<text transform="translate(491.9,273.1) scale(1,0.93)" font-size="12.4" textLength="20.2" lengthAdjust="spacing">800</text>
<text transform="translate(237.6,289) scale(1,0.94)" font-size="12" text-anchor="start" textLength="71.7" lengthAdjust="spacingAndGlyphs">Time (second)</text>
<text x="241.6" y="333.7" font-size="26" textLength="29.7" lengthAdjust="spacingAndGlyphs"><tspan class="r">(</tspan>a<tspan class="r">)</tspan></text>
<text transform="translate(13.5,184.6) rotate(-90)" font-size="11" textLength="82.8" lengthAdjust="spacingAndGlyphs">Temperature (<tspan class="r">℃</tspan>)</text>
<g fill="none" stroke="#7f7f7f" stroke-width="1">
<path d="M596.5,30.9 V255.4 H1008.5"/>
<path d="M596.5,255.40 h3.5 M596.5,210.50 h3.5 M596.5,165.60 h3.5 M596.5,120.70 h3.5 M596.5,75.80 h3.5 M596.5,30.90 h3.5 M699.50,255.4 v-3.5 M802.50,255.4 v-3.5 M905.50,255.4 v-3.5 M1008.50,255.4 v-3.5 "/>
</g>
<g fill="none" stroke-linejoin="round">
<path d="M596.5,210.5 L598.0,210.5 L599.3,210.5 L600.4,210.5 L601.4,210.5 L602.1,210.5 L602.6,210.5 L603.0,209.8 L603.1,208.8 L603.1,207.8 L603.2,206.8 L603.2,205.8 L603.2,204.8 L603.3,203.8 L603.3,202.8 L603.3,201.8 L603.3,200.8 L603.3,199.8 L603.4,198.8 L603.4,197.8 L603.4,196.7 L603.4,195.7 L603.4,194.7 L603.5,193.7 L603.5,192.7 L603.6,191.7 L603.6,190.7 L603.7,189.7 L603.7,188.7 L603.8,187.7 L603.9,186.7 L603.9,185.7 L604.0,184.7 L604.1,183.7 L604.2,182.7 L604.3,181.7 L604.3,180.7 L604.4,179.7 L604.5,178.7 L604.6,177.7 L604.7,176.8 L604.8,175.8 L604.9,174.8 L605.0,173.8 L605.1,172.8 L605.2,171.8 L605.4,170.8 L605.5,169.8 L605.6,168.8 L605.8,167.8 L605.9,166.8 L606.1,165.8 L606.3,164.8 L606.4,163.9 L606.6,162.9 L606.8,161.9 L607.0,160.9 L607.2,159.9 L607.5,159.0 L607.7,158.0 L607.9,157.0 L608.2,156.1 L608.4,155.1 L608.7,154.1 L609.0,153.1 L609.2,152.2 L609.5,151.2 L609.7,150.2 L610.0,149.3 L610.3,148.3 L610.6,147.4 L610.9,146.4 L611.2,145.4 L611.5,144.5 L611.8,143.5 L612.1,142.6 L612.5,141.7 L612.8,140.7 L613.2,139.8 L613.6,138.9 L614.0,138.0 L614.4,137.1 L614.8,136.2 L615.3,135.3 L615.7,134.4 L616.2,133.5 L616.7,132.6 L617.2,131.7 L617.7,130.9 L618.2,130.0 L618.7,129.2 L619.3,128.3 L619.8,127.5 L620.4,126.6 L620.9,125.8 L621.5,125.0 L622.1,124.2 L622.6,123.3 L623.2,122.5 L623.8,121.7 L624.4,121.0 L625.1,120.2 L625.8,119.5 L626.4,118.7 L627.2,118.0 L627.9,117.4 L628.7,116.7 L629.4,116.1 L630.2,115.5 L631.1,114.9 L631.9,114.4 L632.8,113.9 L633.7,113.5 L634.6,113.0 L635.5,112.7 L636.4,112.3 L637.4,112.1 L638.3,111.8 L639.3,111.6 L640.3,111.4 L641.3,111.2 L642.3,111.1 L643.2,111.0 L644.2,111.0 L645.2,110.9 L646.2,110.9 L647.2,110.9 L648.2,110.9 L649.2,110.9 L650.2,111.0 L651.2,111.0 L652.2,111.1 L653.2,111.2 L654.2,111.3 L655.2,111.4 L656.2,111.5 L657.2,111.7 L658.2,111.8 L659.2,112.0 L660.2,112.2 L661.2,112.4 L662.1,112.6 L663.1,112.8 L664.1,113.0 L665.1,113.2 L666.1,113.4 L667.0,113.6 L668.0,113.8 L669.0,114.1 L670.0,114.3 L670.9,114.5 L671.9,114.7 L672.9,115.0 L673.9,115.2 L674.8,115.4 L675.8,115.6 L676.8,115.8 L677.8,116.0 L678.8,116.2 L679.7,116.4 L680.7,116.6 L681.7,116.8 L682.7,117.1 L683.7,117.3 L684.6,117.5 L685.6,117.7 L686.6,117.9 L687.6,118.1 L688.5,118.3 L689.5,118.5 L690.5,118.8 L691.5,119.0 L692.5,119.2 L693.4,119.4 L694.4,119.6 L695.4,119.9 L696.4,120.1 L697.3,120.3 L698.3,120.5 L699.3,120.8 L700.3,121.0 L701.2,121.2 L702.2,121.4 L703.2,121.7 L704.2,121.9 L705.1,122.1 L706.1,122.3 L707.1,122.5 L708.1,122.8 L709.1,123.0 L710.0,123.2 L711.0,123.4 L712.0,123.5 L713.0,123.7 L714.0,123.9 L714.9,124.1 L715.9,124.2 L716.9,124.4 L717.9,124.6 L718.9,124.7 L719.9,124.9 L720.9,125.0 L721.9,125.2 L722.9,125.3 L723.9,125.4 L724.8,125.6 L725.8,125.7 L726.8,125.9 L727.8,126.0 L728.8,126.1 L729.8,126.3 L730.8,126.4 L731.8,126.5 L732.8,126.7 L733.8,126.8 L734.8,126.9 L735.8,127.1 L736.7,127.2 L737.7,127.4 L738.7,127.5 L739.7,127.6 L740.7,127.8 L741.7,127.9 L742.7,128.0 L743.7,128.1 L744.7,128.3 L745.7,128.4 L746.7,128.5 L747.7,128.6 L748.7,128.7 L749.7,128.8 L750.7,128.9 L751.7,129.0 L752.6,129.1 L753.6,129.2 L754.6,129.3 L755.6,129.4 L756.6,129.5 L757.6,129.6 L758.6,129.7 L759.6,129.8 L760.6,129.9 L761.6,130.0 L762.6,130.1 L763.6,130.2 L764.6,130.3 L765.6,130.4 L766.6,130.5 L767.6,130.6 L768.6,130.7 L769.6,130.8 L770.6,130.9 L771.6,131.0 L772.6,131.1 L773.6,131.2 L774.6,131.3 L775.6,131.4 L776.6,131.5 L777.6,131.6 L778.6,131.7 L779.5,131.8 L780.5,131.9 L781.5,132.0 L782.5,132.1 L783.5,132.2 L784.5,132.3 L785.5,132.4 L786.5,132.5 L787.5,132.6 L788.5,132.7 L789.5,132.8 L790.5,132.9 L791.5,133.0 L792.5,133.1 L793.5,133.2 L794.5,133.3 L795.5,133.4 L796.5,133.5 L797.5,133.6 L798.5,133.7 L799.5,133.8 L800.5,133.9 L801.5,134.0 L802.5,134.1 L803.5,134.2 L804.4,134.3 L805.4,134.4 L806.4,134.5 L807.4,134.6 L808.4,134.7 L809.4,134.8 L810.4,134.9 L811.4,135.0 L812.4,135.1 L813.4,135.2 L814.4,135.2 L815.4,135.3 L816.4,135.4 L817.4,135.5 L818.4,135.6 L819.4,135.7 L820.4,135.8 L821.4,135.8 L822.4,135.9 L823.4,136.0 L824.4,136.1 L825.4,136.2 L826.4,136.3 L827.4,136.3 L828.4,136.4 L829.4,136.5 L830.4,136.6 L831.4,136.6 L832.4,136.7 L833.4,136.8 L834.4,136.9 L835.4,136.9 L836.4,137.0 L837.4,137.1 L838.4,137.1 L839.4,137.2 L840.4,137.3 L841.4,137.3 L842.4,137.4 L843.4,137.4 L844.4,137.5 L845.4,137.6 L846.4,137.6 L847.4,137.7 L848.4,137.7 L849.4,137.8 L850.4,137.8 L851.4,137.9 L852.4,137.9 L853.4,138.0 L854.4,138.0 L855.4,138.1 L856.4,138.1 L857.4,138.2 L858.4,138.2 L859.4,138.3 L860.4,138.3 L861.4,138.4 L862.4,138.4 L863.4,138.5 L864.4,138.5 L865.4,138.6 L866.4,138.6 L867.4,138.7 L868.4,138.7 L869.4,138.8 L870.4,138.8 L871.4,138.9 L872.4,138.9 L873.4,139.0 L874.4,139.0 L875.4,139.1 L876.4,139.1 L877.4,139.2 L878.4,139.2 L879.4,139.3 L880.4,139.3 L881.4,139.4 L882.4,139.4 L883.4,139.5 L884.4,139.5 L885.4,139.6 L886.4,139.6 L887.4,139.6 L888.4,139.7 L889.4,139.7 L890.4,139.8 L891.4,139.8 L892.4,139.9 L893.4,139.9 L894.4,139.9 L895.4,140.0 L896.4,140.0 L897.4,140.1 L898.4,140.1 L899.4,140.1 L900.4,140.2 L901.4,140.2 L902.4,140.3 L903.4,140.3 L904.4,140.3 L905.4,140.4 L906.4,140.4 L907.4,140.4 L908.4,140.5 L909.4,140.5 L910.4,140.6 L911.4,140.6 L912.4,140.6 L913.4,140.7 L914.4,140.7 L915.4,140.7 L916.4,140.8 L917.4,140.8 L918.4,140.8 L919.4,140.8 L920.4,140.9 L921.4,140.9 L922.4,140.9 L923.4,140.9 L924.4,141.0 L925.4,141.0 L926.4,141.0 L927.4,141.0 L928.4,141.0 L929.4,141.0 L930.4,141.0 L931.4,141.0 L932.4,141.1 L933.4,141.1 L934.4,141.1 L935.4,141.1 L936.4,141.1 L937.4,141.1 L938.4,141.1 L939.4,141.1 L940.4,141.1 L941.4,141.1 L942.4,141.1 L943.4,141.1 L944.4,141.1 L945.4,141.1 L946.4,141.1 L947.4,141.1 L948.4,141.2 L949.4,141.2 L950.4,141.2 L951.4,141.2 L952.4,141.2 L953.4,141.2 L954.4,141.2 L955.4,141.2 L956.4,141.2 L957.4,141.2 L958.4,141.2 L959.4,141.2 L960.4,141.2 L961.4,141.2 L962.4,141.2 L963.4,141.2 L964.4,141.3 L965.4,141.3 L966.4,141.3 L967.4,141.3 L968.4,141.3 L969.4,141.3 L970.4,141.3 L971.4,141.3 L972.4,141.4 L973.4,141.4 L974.4,141.4 L975.4,141.4 L976.4,141.5 L977.4,141.5 L978.4,141.5 L979.4,141.6 L980.4,141.6 L981.4,141.6 L982.4,141.7 L983.4,141.7 L984.4,141.7 L985.4,141.8 L986.4,141.8 L987.4,141.9 L988.4,141.9 L989.4,142.0 L990.4,142.0 L991.4,142.1 L992.4,142.2 L993.4,142.2 L994.4,142.3 L995.4,142.4 L996.4,142.5 L997.4,142.5 L998.4,142.6 L999.3,142.7 L1000.3,142.8 L1001.3,142.9 L1002.3,142.9 L1003.3,143.0 L1003.9,143.1" stroke="#1FBCE6" stroke-width="1.3"/>
<path d="M596.5,210.5 L597.9,210.5 L599.1,210.5 L600.1,210.5 L600.8,210.5 L601.4,210.4 L601.7,209.4 L601.7,208.4 L601.7,207.4 L601.7,206.5 L601.7,205.5 L601.7,204.5 L601.7,203.5 L601.7,202.5 L601.7,201.4 L601.7,200.4 L601.7,199.4 L601.7,198.4 L601.7,197.4 L601.7,196.4 L601.7,195.4 L601.7,194.4 L601.7,193.4 L601.7,192.4 L601.8,191.4 L601.8,190.4 L601.8,189.4 L601.8,188.4 L601.9,187.4 L601.9,186.4 L601.9,185.4 L601.9,184.4 L602.0,183.3 L602.0,182.3 L602.0,181.3 L602.0,180.3 L602.0,179.3 L602.0,178.3 L602.1,177.3 L602.1,176.3 L602.1,175.3 L602.1,174.3 L602.1,173.3 L602.1,172.3 L602.1,171.3 L602.1,170.3 L602.1,169.3 L602.1,168.3 L602.1,167.3 L602.1,166.3 L602.2,165.3 L602.2,164.3 L602.2,163.3 L602.2,162.3 L602.2,161.3 L602.2,160.3 L602.2,159.3 L602.2,158.3 L602.2,157.3 L602.2,156.3 L602.3,155.3 L602.3,154.3 L602.3,153.3 L602.3,152.3 L602.3,151.3 L602.4,150.3 L602.4,149.3 L602.4,148.3 L602.4,147.3 L602.5,146.3 L602.5,145.3 L602.6,144.3 L602.6,143.3 L602.6,142.3 L602.7,141.3 L602.7,140.3 L602.8,139.3 L602.8,138.3 L602.8,137.3 L602.9,136.3 L602.9,135.3 L602.9,134.3 L603.0,133.3 L603.0,132.3 L603.0,131.3 L603.1,130.3 L603.1,129.3 L603.1,128.3 L603.2,127.3 L603.2,126.3 L603.3,125.3 L603.3,124.3 L603.4,123.3 L603.4,122.3 L603.5,121.3 L603.6,120.3 L603.7,119.3 L603.7,118.3 L603.8,117.3 L603.9,116.3 L604.0,115.3 L604.1,114.3 L604.2,113.3 L604.2,112.3 L604.3,111.3 L604.4,110.3 L604.5,109.4 L604.6,108.4 L604.7,107.4 L604.8,106.4 L604.9,105.4 L605.1,104.4 L605.2,103.4 L605.3,102.4 L605.4,101.4 L605.5,100.4 L605.7,99.4 L605.8,98.4 L606.0,97.4 L606.1,96.4 L606.3,95.5 L606.5,94.5 L606.7,93.5 L606.9,92.5 L607.1,91.5 L607.3,90.6 L607.5,89.6 L607.8,88.6 L608.0,87.6 L608.2,86.7 L608.5,85.7 L608.7,84.7 L609.0,83.8 L609.3,82.8 L609.6,81.8 L609.9,80.9 L610.2,79.9 L610.5,79.0 L610.8,78.0 L611.1,77.1 L611.4,76.1 L611.8,75.2 L612.1,74.3 L612.5,73.3 L612.9,72.4 L613.3,71.5 L613.7,70.6 L614.0,69.6 L614.4,68.7 L614.8,67.8 L615.2,66.9 L615.7,66.0 L616.1,65.1 L616.6,64.2 L617.0,63.3 L617.5,62.4 L618.0,61.6 L618.6,60.7 L619.2,59.9 L619.7,59.1 L620.4,58.3 L621.0,57.5 L621.6,56.8 L622.3,56.1 L623.0,55.3 L623.7,54.6 L624.4,54.0 L625.2,53.3 L626.0,52.7 L626.8,52.1 L627.6,51.5 L628.4,50.9 L629.2,50.3 L630.1,49.8 L630.9,49.3 L631.8,48.8 L632.7,48.4 L633.6,48.0 L634.5,47.6 L635.5,47.2 L636.4,46.9 L637.3,46.5 L638.3,46.2 L639.3,46.0 L640.2,45.7 L641.2,45.5 L642.2,45.3 L643.2,45.1 L644.1,44.9 L645.1,44.7 L646.1,44.6 L647.1,44.5 L648.1,44.3 L649.1,44.2 L650.1,44.2 L651.1,44.1 L652.1,44.0 L653.1,44.0 L654.1,43.9 L655.1,43.9 L656.1,43.9 L657.1,43.9 L658.1,43.9 L659.1,43.9 L660.1,43.9 L661.1,43.9 L662.1,44.0 L663.1,44.0 L664.1,44.1 L665.1,44.1 L666.1,44.2 L667.1,44.3 L668.1,44.3 L669.1,44.4 L670.1,44.5 L671.1,44.5 L672.1,44.6 L673.1,44.7 L674.1,44.8 L675.1,44.8 L676.1,44.9 L677.1,45.0 L678.1,45.1 L679.1,45.2 L680.1,45.2 L681.1,45.3 L682.1,45.4 L683.1,45.5 L684.1,45.5 L685.1,45.6 L686.0,45.7 L687.0,45.8 L688.0,45.8 L689.0,45.9 L690.0,46.0 L691.0,46.1 L692.0,46.1 L693.0,46.2 L694.0,46.3 L695.0,46.4 L696.0,46.5 L697.0,46.6 L698.0,46.7 L699.0,46.8 L700.0,46.9 L701.0,46.9 L702.0,47.2 L703.0,47.1 L704.0,47.2 L705.0,47.3 L706.0,47.6 L707.0,47.7 L708.0,47.6 L709.0,47.8 L710.0,47.9 L711.0,48.1 L711.9,48.2 L712.9,48.2 L713.9,48.4 L714.9,48.6 L715.9,48.7 L716.9,48.7 L717.9,48.8 L718.9,48.8 L719.9,49.0 L720.9,49.0 L721.9,49.2 L722.9,49.3 L723.9,49.3 L724.9,49.4 L725.9,49.5 L726.9,49.6 L727.9,49.8 L728.9,49.9 L729.9,49.9 L730.9,49.9 L731.9,50.0 L732.9,50.0 L733.9,50.4 L734.9,50.4 L735.9,50.5 L736.9,50.5 L737.9,50.5 L738.9,50.6 L739.9,50.7 L740.9,50.8 L741.9,51.0 L742.9,51.1 L743.8,51.2 L744.8,51.2 L745.8,51.3 L746.8,51.4 L747.8,51.4 L748.8,51.5 L749.8,51.5 L750.8,51.7 L751.8,51.8 L752.8,51.6 L753.8,52.0 L754.8,51.9 L755.8,51.9 L756.8,51.9 L757.8,52.2 L758.8,52.2 L759.8,52.2 L760.8,52.4 L761.8,52.3 L762.8,52.6 L763.8,52.4 L764.8,52.5 L765.8,52.7 L766.8,52.7 L767.8,52.9 L768.8,52.8 L769.8,53.1 L770.8,53.1 L771.8,53.1 L772.8,53.2 L773.8,53.3 L774.8,53.2 L775.8,53.5 L776.8,53.5 L777.8,53.6 L778.8,53.4 L779.8,53.7 L780.8,53.7 L781.8,53.7 L782.8,53.9 L783.8,53.8 L784.8,54.0 L785.8,53.9 L786.8,54.0 L787.8,54.2 L788.8,54.2 L789.8,54.3 L790.8,54.2 L791.8,54.4 L792.8,54.2 L793.8,54.5 L794.8,54.5 L795.8,54.7 L796.8,54.7 L797.8,54.7 L798.8,54.9 L799.8,54.7 L800.8,54.9 L801.8,54.8 L802.8,55.0 L803.8,55.1 L804.8,55.1 L805.8,55.1 L806.8,55.1 L807.8,55.2 L808.8,55.2 L809.8,55.4 L810.8,55.5 L811.8,55.5 L812.8,55.5 L813.8,55.6 L814.8,55.7 L815.8,55.6 L816.8,55.7 L817.8,55.9 L818.8,55.7 L819.8,55.9 L820.8,55.8 L821.8,55.8 L822.8,56.1 L823.8,56.0 L824.8,56.3 L825.8,56.2 L826.8,56.2 L827.8,56.1 L828.8,56.1 L829.8,56.4 L830.8,56.4 L831.8,56.5 L832.8,56.4 L833.8,56.6 L834.8,56.4 L835.8,56.5 L836.8,56.6 L837.8,56.7 L838.8,56.6 L839.8,56.6 L840.8,56.7 L841.8,56.8 L842.8,56.9 L843.8,56.8 L844.8,56.7 L845.8,56.7 L846.8,56.7 L847.8,56.9 L848.8,56.9 L849.8,57.0 L850.8,57.0 L851.8,57.0 L852.8,57.0 L853.8,57.0 L854.8,57.1 L855.8,57.0 L856.8,57.0 L857.8,57.0 L858.8,57.1 L859.8,57.2 L860.8,57.3 L861.8,57.3 L862.8,57.2 L863.8,57.4 L864.8,57.1 L865.8,57.4 L866.8,57.2 L867.8,57.2 L868.8,57.4 L869.8,57.4 L870.8,57.3 L871.8,57.3 L872.8,57.4 L873.8,57.6 L874.8,57.3 L875.8,57.4 L876.8,57.5 L877.8,57.5 L878.8,57.5 L879.8,57.7 L880.8,57.5 L881.8,57.6 L882.8,57.6 L883.8,57.7 L884.8,57.6 L885.8,57.7 L886.8,57.8 L887.8,57.8 L888.8,57.9 L889.8,57.8 L890.8,57.8 L891.8,57.9 L892.8,58.1 L893.8,58.1 L894.8,58.2 L895.8,58.1 L896.8,58.0 L897.8,58.1 L898.8,58.1 L899.8,58.2 L900.8,58.3 L901.8,58.2 L902.8,58.4 L903.8,58.4 L904.8,58.4 L905.8,58.3 L906.8,58.4 L907.8,58.3 L908.8,58.3 L909.8,58.3 L910.8,58.6 L911.8,58.3 L912.8,58.5 L913.8,58.4 L914.8,58.6 L915.8,58.7 L916.8,58.5 L917.8,58.6 L918.8,58.6 L919.8,58.7 L920.8,58.7 L921.8,58.8 L922.8,58.5 L923.8,58.8 L924.8,58.7 L925.8,58.8 L926.8,58.8 L927.8,58.6 L928.8,58.7 L929.8,58.7 L930.8,58.7 L931.8,58.9 L932.8,58.8 L933.8,58.8 L934.8,58.8 L935.8,58.8 L936.8,59.0 L937.8,58.8 L938.8,58.9 L939.8,58.9 L940.8,58.9 L941.8,59.0 L942.8,58.9 L943.8,58.8 L944.8,59.1 L945.8,59.0 L946.8,59.1 L947.8,59.0 L948.8,58.9 L949.8,58.9 L950.8,59.2 L951.8,59.0 L952.9,59.2 L953.9,58.9 L954.9,58.9 L955.9,59.2 L956.9,59.1 L957.9,59.0 L958.9,59.0 L959.9,59.0 L960.9,59.2 L961.9,59.2 L962.9,59.3 L963.9,59.2 L964.9,59.2 L965.9,59.2 L966.9,59.1 L967.9,59.3 L968.9,59.3 L969.9,59.3 L970.9,59.2 L971.9,59.3 L972.9,59.3 L973.9,59.4 L974.9,59.4 L975.9,59.4 L976.9,59.4 L977.9,59.3 L978.9,59.4 L979.9,59.3 L980.9,59.5 L981.9,59.3 L982.9,59.4 L983.9,59.5 L984.9,59.5 L985.9,59.2 L986.9,59.2 L987.9,59.4 L988.9,59.5 L989.9,59.3 L990.9,59.2 L991.9,59.3 L992.9,59.3 L993.9,59.4 L994.9,59.4 L995.9,59.3 L996.9,59.5 L997.9,59.4 L998.8,59.4 L999.8,59.3 L1000.8,59.3 L1001.7,59.5 L1002.8,59.5 L1003.9,59.4 L1003.9,59.4" stroke="#E4666B" stroke-width="1.05"/>
<path d="M596.5,210.5 L597.6,210.5 L598.6,210.5 L599.6,210.5 L600.6,210.5 L601.6,210.5 L602.6,210.5 L603.6,210.5 L604.5,210.5 L605.5,210.1 L606.3,209.6 L607.1,209.1 L607.9,208.5 L608.6,207.8 L609.4,207.1 L610.1,206.3 L610.8,205.6 L611.5,204.9 L612.2,204.2 L612.9,203.4 L613.5,202.7 L614.2,201.9 L614.8,201.2 L615.5,200.4 L616.1,199.6 L616.8,198.9 L617.5,198.1 L618.1,197.4 L618.8,196.6 L619.5,195.9 L620.2,195.2 L620.9,194.4 L621.6,193.7 L622.3,193.0 L623.0,192.3 L623.7,191.6 L624.4,190.9 L625.2,190.3 L625.9,189.6 L626.7,188.9 L627.4,188.3 L628.2,187.6 L629.0,187.0 L629.7,186.4 L630.5,185.7 L631.3,185.1 L632.1,184.5 L632.9,183.9 L633.7,183.2 L634.4,182.6 L635.2,182.0 L636.0,181.4 L636.8,180.7 L637.5,180.1 L638.3,179.4 L639.1,178.8 L639.9,178.2 L640.6,177.5 L641.4,176.9 L642.2,176.3 L643.0,175.7 L643.8,175.1 L644.7,174.6 L645.5,174.0 L646.3,173.4 L647.2,172.9 L648.0,172.3 L648.8,171.8 L649.7,171.3 L650.5,170.7 L651.4,170.2 L652.3,169.8 L653.2,169.3 L654.1,168.8 L654.9,168.4 L655.9,168.0 L656.8,167.6 L657.7,167.2 L658.6,166.8 L659.5,166.4 L660.5,166.0 L661.4,165.6 L662.3,165.3 L663.3,164.9 L664.2,164.6 L665.2,164.3 L666.1,163.9 L667.1,163.6 L668.0,163.4 L669.0,163.1 L670.0,162.9 L670.9,162.6 L671.9,162.4 L672.9,162.2 L673.9,162.0 L674.9,161.9 L675.9,161.7 L676.8,161.5 L677.8,161.4 L678.8,161.2 L679.8,161.1 L680.8,161.0 L681.8,160.8 L682.8,160.7 L683.8,160.6 L684.8,160.5 L685.8,160.5 L686.8,160.4 L687.8,160.3 L688.8,160.3 L689.8,160.2 L690.8,160.2 L691.8,160.2 L692.8,160.1 L693.8,160.1 L694.8,160.1 L695.8,160.0 L696.8,160.0 L697.8,160.0 L698.8,160.0 L699.8,160.0 L700.8,159.7 L701.8,159.9 L702.8,159.8 L703.8,160.0 L704.8,159.8 L705.8,159.9 L706.8,159.9 L707.8,160.1 L708.8,159.9 L709.8,159.8 L710.8,159.8 L711.8,159.8 L712.8,160.1 L713.8,159.9 L714.8,160.0 L715.8,160.0 L716.8,160.1 L717.8,160.1 L718.8,160.2 L719.8,160.3 L720.8,160.3 L721.8,160.2 L722.9,160.3 L723.9,160.5 L724.9,160.7 L725.9,160.3 L726.9,160.7 L727.8,160.4 L728.8,160.5 L729.8,161.0 L730.8,160.9 L731.8,160.8 L732.8,161.0 L733.8,160.9 L734.8,161.1 L735.8,161.1 L736.8,161.2 L737.8,161.5 L738.8,161.2 L739.8,161.4 L740.8,161.3 L741.8,161.6 L742.8,161.6 L743.8,161.8 L744.8,161.6 L745.8,161.6 L746.8,162.0 L747.8,161.9 L748.8,162.1 L749.8,162.3 L750.8,161.9 L751.8,162.3 L752.8,162.3 L753.8,162.5 L754.8,162.3 L755.8,162.6 L756.8,162.5 L757.8,162.7 L758.9,162.4 L759.9,162.6 L760.9,162.7 L761.9,162.5 L762.9,162.6 L763.9,162.9 L764.9,162.7 L765.9,162.8 L766.9,162.9 L767.9,163.0 L768.9,163.3 L769.9,163.0 L770.9,163.0 L771.9,163.1 L772.9,163.4 L773.9,163.1 L774.9,163.5 L775.9,163.2 L776.9,163.6 L777.9,163.4 L778.9,163.6 L779.9,163.5 L780.9,163.7 L781.9,163.7 L782.9,164.1 L783.9,163.8 L784.9,164.0 L785.9,164.1 L786.9,163.9 L787.9,164.3 L788.9,164.3 L789.9,164.5 L790.9,164.3 L791.9,164.5 L792.9,164.6 L793.9,164.6 L794.9,164.3 L795.9,164.4 L796.9,164.5 L797.9,164.6 L798.9,164.8 L799.9,164.9 L800.9,164.8 L801.9,164.6 L802.9,165.0 L803.9,165.1 L804.9,165.2 L805.9,165.2 L806.9,165.1 L807.9,165.4 L808.9,165.1 L809.9,165.4 L810.9,165.2 L811.9,165.5 L812.9,165.2 L813.9,165.3 L814.9,165.6 L815.9,165.6 L816.9,165.4 L817.9,165.5 L818.9,165.7 L819.9,165.8 L820.9,165.5 L821.9,165.7 L822.9,165.8 L823.9,165.7 L824.9,165.9 L825.9,166.0 L826.9,165.7 L827.9,165.8 L828.9,165.7 L829.9,165.9 L830.9,165.8 L831.9,165.8 L832.9,166.1 L833.9,166.3 L834.9,166.0 L835.9,166.1 L836.9,166.1 L837.9,166.3 L838.9,166.4 L839.9,166.3 L840.9,166.3 L841.9,166.4 L842.9,166.3 L843.9,166.3 L844.9,166.1 L845.9,166.4 L846.9,166.3 L847.9,166.2 L848.9,166.3 L849.9,166.5 L850.9,166.3 L851.9,166.2 L852.9,166.3 L853.9,166.2 L854.9,166.6 L855.9,166.3 L856.9,166.6 L857.9,166.4 L858.9,166.7 L859.9,166.5 L861.0,166.4 L862.0,166.6 L863.0,166.4 L864.0,166.5 L865.0,166.6 L866.0,166.5 L867.0,166.7 L868.0,167.0 L869.0,166.7 L870.0,166.7 L871.0,166.7 L872.0,166.7 L873.0,167.0 L874.0,167.1 L875.0,167.0 L876.0,166.9 L877.0,167.2 L878.0,167.3 L879.0,167.1 L880.0,166.9 L881.0,167.2 L882.0,167.1 L883.0,167.4 L884.0,167.4 L885.0,167.4 L886.0,167.1 L887.0,167.5 L888.0,167.2 L889.0,167.3 L890.0,167.6 L891.0,167.3 L892.0,167.7 L893.0,167.3 L894.0,167.3 L895.0,167.7 L896.0,167.6 L897.0,167.4 L898.0,167.5 L899.0,167.3 L900.0,167.5 L901.0,167.6 L902.0,167.5 L903.0,167.4 L904.0,167.5 L905.0,167.4 L906.0,167.0 L907.0,167.0 L908.0,167.0 L909.0,167.0 L910.0,166.9 L911.0,166.9 L912.0,166.8 L913.0,166.3 L914.0,166.7 L915.0,166.8 L916.0,166.7 L917.0,166.8 L918.0,166.6 L919.0,166.6 L920.0,166.3 L921.0,166.7 L922.0,166.7 L923.0,166.5 L924.0,166.6 L925.0,166.7 L926.0,166.6 L927.0,167.0 L928.0,166.8 L929.0,166.7 L930.0,167.0 L931.0,167.0 L932.0,167.0 L933.0,167.1 L934.0,166.7 L935.0,166.8 L936.0,167.0 L937.0,167.2 L938.0,167.2 L939.0,166.9 L940.0,167.3 L941.0,167.3 L942.0,167.0 L943.0,167.3 L944.0,167.3 L945.0,167.4 L946.0,167.1 L947.0,167.4 L948.0,167.4 L949.0,167.6 L950.0,167.6 L951.0,167.5 L952.0,167.9 L953.0,168.0 L954.0,168.0 L955.0,168.0 L956.0,168.1 L957.0,168.2 L958.0,168.2 L959.0,167.9 L960.0,168.3 L961.0,168.1 L962.0,168.3 L963.0,168.1 L964.0,168.1 L965.0,168.1 L966.0,168.6 L967.0,168.4 L968.0,168.4 L969.0,168.4 L970.0,168.7 L971.0,168.3 L972.0,168.6 L973.0,168.7 L974.0,168.4 L975.0,168.6 L976.0,168.6 L977.0,168.4 L978.0,168.5 L979.1,168.7 L980.1,168.6 L981.1,168.9 L982.1,168.6 L983.1,168.7 L984.1,168.7 L985.1,168.8 L986.1,168.9 L987.1,168.7 L988.1,168.7 L989.1,168.9 L990.1,168.6 L991.1,169.0 L992.1,168.7 L993.1,169.1 L994.1,168.9 L995.1,168.8 L996.1,169.1 L997.1,169.1 L998.1,168.9 L999.0,168.8 L1000.0,168.7 L1001.0,168.7 L1001.9,168.8 L1003.0,168.8 L1003.6,168.7" stroke="#9BC160" stroke-width="1.05"/>
<path d="M596.5,210.5 L597.5,210.5 L598.5,210.5 L599.6,210.5 L600.6,210.5 L601.6,210.5 L602.6,210.5 L603.6,210.5 L604.6,210.5 L605.6,210.5 L606.6,210.5 L607.6,210.5 L608.5,210.5 L609.5,210.5 L610.5,210.5 L611.5,210.4 L612.5,210.1 L613.3,209.7 L614.1,209.1 L614.8,208.3 L615.5,207.5 L616.2,206.8 L616.9,206.0 L617.5,205.3 L618.1,204.5 L618.7,203.7 L619.3,202.8 L619.9,202.0 L620.5,201.2 L621.0,200.4 L621.6,199.5 L622.1,198.7 L622.7,197.9 L623.2,197.0 L623.7,196.2 L624.3,195.3 L624.8,194.4 L625.3,193.6 L625.8,192.7 L626.4,191.9 L626.9,191.0 L627.4,190.2 L628.0,189.3 L628.5,188.5 L629.0,187.6 L629.6,186.8 L630.1,185.9 L630.6,185.1 L631.2,184.3 L631.7,183.4 L632.2,182.5 L632.7,181.7 L633.1,180.8 L633.6,179.9 L634.0,179.0 L634.4,178.1 L634.8,177.2 L635.3,176.3 L635.7,175.4 L636.1,174.5 L636.6,173.6 L637.0,172.7 L637.5,171.8 L638.0,170.9 L638.5,170.0 L639.0,169.2 L639.5,168.3 L640.0,167.4 L640.5,166.6 L641.0,165.7 L641.5,164.8 L641.9,163.9 L642.4,163.1 L642.9,162.2 L643.4,161.3 L643.9,160.4 L644.3,159.5 L644.8,158.7 L645.3,157.8 L645.7,156.9 L646.2,156.0 L646.6,155.1 L647.1,154.2 L647.5,153.3 L648.0,152.4 L648.4,151.5 L648.9,150.6 L649.4,149.7 L649.8,148.8 L650.3,148.0 L650.8,147.1 L651.3,146.2 L651.8,145.3 L652.3,144.5 L652.8,143.6 L653.3,142.8 L653.8,141.9 L654.4,141.1 L654.9,140.2 L655.5,139.4 L656.0,138.6 L656.6,137.7 L657.1,136.9 L657.7,136.1 L658.3,135.3 L658.9,134.4 L659.4,133.6 L660.0,132.8 L660.6,132.0 L661.2,131.2 L661.8,130.4 L662.5,129.6 L663.1,128.8 L663.7,128.1 L664.4,127.3 L665.0,126.6 L665.7,125.8 L666.4,125.0 L667.0,124.3 L667.7,123.6 L668.4,122.8 L669.1,122.1 L669.8,121.4 L670.5,120.7 L671.2,120.0 L672.0,119.3 L672.7,118.7 L673.5,118.1 L674.3,117.5 L675.1,116.9 L675.9,116.3 L676.8,115.8 L677.6,115.2 L678.5,114.7 L679.4,114.3 L680.2,113.8 L681.1,113.4 L682.1,113.0 L683.0,112.6 L683.9,112.2 L684.9,111.9 L685.8,111.5 L686.7,111.2 L687.7,110.9 L688.7,110.6 L689.6,110.3 L690.6,110.0 L691.5,109.7 L692.5,109.5 L693.5,109.3 L694.5,109.1 L695.5,108.9 L696.4,108.8 L697.4,108.7 L698.4,108.6 L699.4,108.5 L700.4,108.5 L701.4,108.4 L702.4,108.4 L703.4,108.4 L704.4,108.4 L705.4,108.4 L706.4,108.4 L707.4,108.4 L708.4,108.5 L709.4,108.5 L710.4,108.6 L711.4,108.7 L712.4,108.8 L713.4,108.9 L714.4,108.9 L715.4,109.0 L716.4,109.1 L717.4,109.2 L718.4,109.3 L719.4,109.4 L720.4,109.5 L721.4,109.6 L722.4,109.7 L723.4,109.8 L724.4,109.9 L725.4,110.0 L726.4,110.1 L727.4,110.2 L728.4,110.4 L729.4,110.5 L730.4,110.6 L731.4,110.7 L732.4,110.8 L733.4,110.9 L734.4,111.0 L735.4,111.1 L736.4,111.1 L737.4,111.2 L738.4,111.3 L739.4,111.4 L740.4,111.4 L741.4,111.5 L742.4,111.5 L743.4,111.6 L744.4,111.7 L745.4,111.7 L746.4,111.8 L747.4,111.8 L748.4,111.9 L749.4,111.9 L750.4,111.9 L751.4,112.0 L752.4,112.0 L753.4,112.0 L754.4,112.1 L755.4,112.1 L756.4,112.1 L757.4,112.1 L758.4,112.2 L759.4,112.2 L760.4,112.2 L761.4,112.2 L762.4,112.2 L763.4,112.2 L764.4,112.2 L765.4,112.2 L766.4,112.2 L767.4,112.2 L768.4,112.3 L769.4,112.3 L770.4,112.3 L771.4,112.3 L772.4,112.3 L773.4,112.3 L774.4,112.3 L775.4,112.3 L776.4,112.3 L777.4,112.3 L778.4,112.3 L779.4,112.3 L780.4,112.3 L781.4,112.3 L782.4,112.3 L783.4,112.3 L784.4,112.3 L785.4,112.3 L786.4,112.3 L787.4,112.3 L788.4,112.3 L789.4,112.3 L790.4,112.3 L791.4,112.3 L792.4,112.3 L793.4,112.3 L794.4,112.3 L795.4,112.3 L796.4,112.3 L797.4,112.3 L798.4,112.3 L799.4,112.3 L800.4,112.3 L801.4,112.3 L802.4,112.3 L803.5,112.4 L804.5,112.4 L805.5,112.4 L806.5,112.4 L807.5,112.4 L808.5,112.4 L809.5,112.4 L810.5,112.4 L811.5,112.4 L812.5,112.4 L813.5,112.4 L814.5,112.4 L815.5,112.4 L816.5,112.4 L817.5,112.5 L818.5,112.5 L819.5,112.5 L820.5,112.5 L821.5,112.5 L822.5,112.6 L823.5,112.6 L824.5,112.6 L825.5,112.6 L826.5,112.7 L827.5,112.7 L828.5,112.7 L829.5,112.8 L830.5,112.8 L831.5,112.8 L832.5,112.8 L833.5,112.9 L834.5,112.9 L835.5,112.9 L836.5,112.9 L837.5,113.0 L838.5,113.0 L839.5,113.0 L840.5,113.0 L841.5,113.0 L842.5,113.0 L843.5,113.1 L844.5,113.1 L845.5,113.1 L846.5,113.1 L847.5,113.1 L848.5,113.1 L849.5,113.1 L850.5,113.1 L851.5,113.0 L852.5,113.0 L853.5,113.0 L854.5,113.0 L855.5,112.9 L856.5,112.9 L857.5,112.9 L858.5,112.8 L859.5,112.8 L860.5,112.7 L861.5,112.7 L862.5,112.6 L863.5,112.6 L864.5,112.5 L865.5,112.5 L866.5,112.4 L867.5,112.4 L868.5,112.3 L869.5,112.2 L870.5,112.1 L871.5,112.1 L872.5,112.0 L873.5,111.9 L874.5,111.8 L875.5,111.7 L876.5,111.6 L877.5,111.5 L878.5,111.4 L879.5,111.3 L880.5,111.2 L881.5,111.2 L882.5,111.1 L883.5,111.0 L884.5,110.9 L885.5,110.8 L886.5,110.7 L887.5,110.6 L888.5,110.6 L889.5,110.5 L890.5,110.4 L891.5,110.3 L892.5,110.2 L893.5,110.1 L894.5,110.1 L895.5,110.0 L896.5,109.9 L897.5,109.8 L898.5,109.8 L899.5,109.7 L900.5,109.6 L901.5,109.6 L902.5,109.5 L903.5,109.4 L904.5,109.3 L905.5,109.3 L906.5,109.2 L907.5,109.1 L908.5,109.1 L909.5,109.0 L910.5,108.9 L911.5,108.8 L912.5,108.8 L913.5,108.7 L914.5,108.6 L915.5,108.6 L916.5,108.5 L917.5,108.5 L918.5,108.4 L919.5,108.4 L920.5,108.3 L921.5,108.3 L922.5,108.3 L923.5,108.3 L924.5,108.2 L925.5,108.2 L926.5,108.2 L927.5,108.2 L928.5,108.2 L929.5,108.2 L930.5,108.2 L931.5,108.2 L932.5,108.2 L933.5,108.2 L934.5,108.2 L935.5,108.2 L936.5,108.3 L937.5,108.3 L938.5,108.3 L939.5,108.3 L940.5,108.3 L941.5,108.3 L942.5,108.3 L943.5,108.3 L944.5,108.4 L945.5,108.4 L946.5,108.4 L947.5,108.4 L948.5,108.4 L949.5,108.5 L950.5,108.5 L951.5,108.5 L952.5,108.5 L953.5,108.6 L954.5,108.6 L955.5,108.6 L956.5,108.7 L957.5,108.8 L958.5,108.8 L959.5,108.9 L960.5,108.9 L961.5,109.0 L962.5,109.1 L963.5,109.2 L964.5,109.3 L965.5,109.4 L966.5,109.4 L967.5,109.5 L968.5,109.6 L969.5,109.7 L970.5,109.8 L971.5,109.9 L972.5,110.0 L973.5,110.1 L974.5,110.2 L975.5,110.3 L976.5,110.4 L977.5,110.5 L978.5,110.6 L979.5,110.7 L980.5,110.8 L981.5,110.9 L982.5,111.0 L983.5,111.0 L984.5,111.1 L985.5,111.2 L986.5,111.3 L987.5,111.4 L988.5,111.5 L989.5,111.6 L990.5,111.7 L991.5,111.8 L992.4,111.9 L993.4,112.0 L994.4,112.2 L995.4,112.3 L996.4,112.4 L997.4,112.5 L998.4,112.6 L999.4,112.7 L1000.3,112.8 L1001.3,112.9 L1002.3,113.0 L1003.3,113.1 L1003.9,113.2" stroke="#9274BA" stroke-width="1.05"/>
</g>
<g fill="none">
<path d="M672,11.1 H687.8" stroke="#1FBCE6" stroke-width="1.25"/>
<path d="M732.4,11.1 H747.4" stroke="#E4666B" stroke-width="0.95"/>
<path d="M792.1,11.1 H807.6" stroke="#9BC160" stroke-width="0.95"/>
<path d="M852.4,11.1 H867.4" stroke="#9274BA" stroke-width="0.95"/>
</g>
<text transform="translate(689.9,14.9) scale(1,0.97)" font-size="12" text-anchor="start" textLength="32.2" lengthAdjust="spacingAndGlyphs">Fan3-4</text>
<text transform="translate(749.6,14.9) scale(1,0.97)" font-size="12" text-anchor="start" textLength="32.2" lengthAdjust="spacingAndGlyphs">Fan5-6</text>
<text transform="translate(809.9,14.9) scale(1,0.97)" font-size="12" text-anchor="start" textLength="32.0" lengthAdjust="spacingAndGlyphs">Fan1-2</text>
<text transform="translate(869.6,14.9) scale(1,0.97)" font-size="12" text-anchor="start" textLength="32.2" lengthAdjust="spacingAndGlyphs">Fan7-8</text>
<text transform="translate(581.9,259.0) scale(1,0.97)" font-size="12" text-anchor="start" textLength="5.3" lengthAdjust="spacingAndGlyphs">0</text>
<text transform="translate(576.6,214.1) scale(1,0.97)" font-size="12" text-anchor="start" textLength="10.6" lengthAdjust="spacingAndGlyphs">20</text>
<text transform="translate(576.6,169.2) scale(1,0.97)" font-size="12" text-anchor="start" textLength="10.6" lengthAdjust="spacingAndGlyphs">40</text>
<text transform="translate(576.6,124.3) scale(1,0.97)" font-size="12" text-anchor="start" textLength="10.6" lengthAdjust="spacingAndGlyphs">60</text>
<text transform="translate(576.6,79.4) scale(1,0.97)" font-size="12" text-anchor="start" textLength="10.6" lengthAdjust="spacingAndGlyphs">80</text>
<text transform="translate(571.3,34.5) scale(1,0.97)" font-size="12" text-anchor="start" textLength="15.9" lengthAdjust="spacingAndGlyphs">100</text>
<text transform="translate(593.9,273.2) scale(1,0.97)" font-size="12" text-anchor="start" textLength="5.3" lengthAdjust="spacingAndGlyphs">0</text>
<text transform="translate(690.6,273.2) scale(1,0.97)" font-size="12" text-anchor="start" textLength="17.7" lengthAdjust="spacingAndGlyphs">200</text>
<text transform="translate(793.6,273.2) scale(1,0.97)" font-size="12" text-anchor="start" textLength="17.7" lengthAdjust="spacingAndGlyphs">400</text>
<text transform="translate(896.6,273.2) scale(1,0.97)" font-size="12" text-anchor="start" textLength="17.7" lengthAdjust="spacingAndGlyphs">600</text>
<text transform="translate(999.6,273.2) scale(1,0.97)" font-size="12" text-anchor="start" textLength="17.7" lengthAdjust="spacingAndGlyphs">800</text>
<text transform="translate(770.6,289) scale(1,0.97)" font-size="12" text-anchor="start" textLength="64.8" lengthAdjust="spacingAndGlyphs">Time (second)</text>
<text x="770.1" y="333.7" font-size="26" textLength="32" lengthAdjust="spacingAndGlyphs"><tspan class="r">(</tspan>b<tspan class="r">)</tspan></text>
<text transform="translate(566.2,189.1) rotate(-90)" font-size="11" textLength="95" lengthAdjust="spacingAndGlyphs">Fan duty cycle (%)</text>
</svg></body></html>
